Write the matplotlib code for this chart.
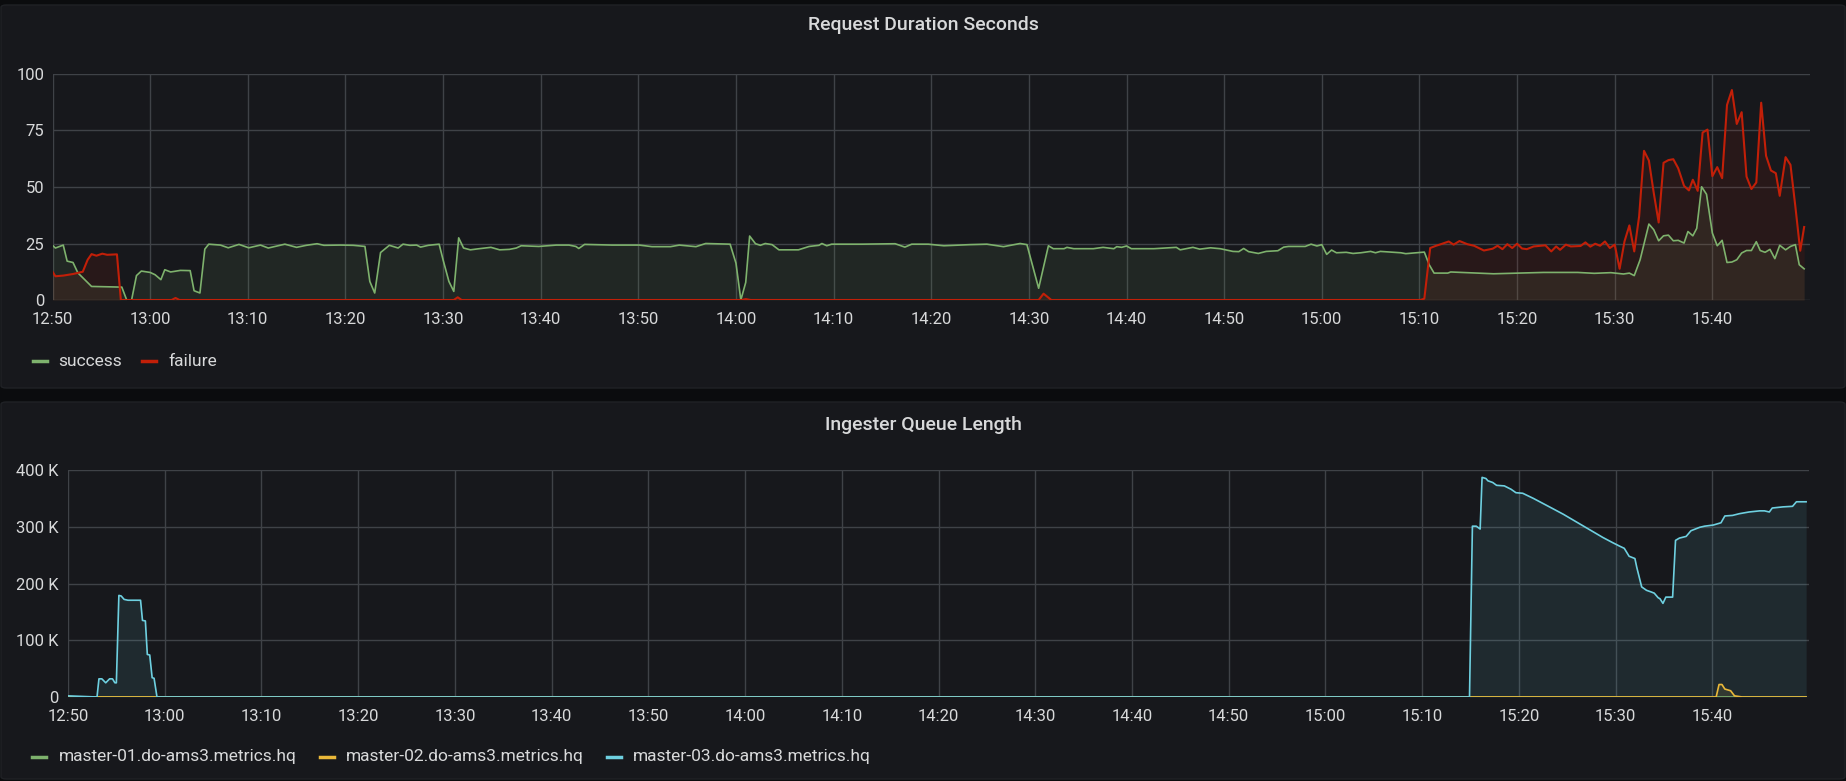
import matplotlib
matplotlib.use("Agg")
import matplotlib.pyplot as plt
from matplotlib.patches import FancyBboxPatch
from matplotlib.lines import Line2D

plt.rcParams['font.family'] = ['Roboto', 'DejaVu Sans']

# minutes after 12:50
tick_minutes = [0, 10, 20, 30, 40, 50, 60, 70, 80, 90, 100, 110, 120, 130, 140, 150, 160, 170]
tick_labels = ["12:50", "13:00", "13:10", "13:20", "13:30", "13:40", "13:50", "14:00", "14:10",
               "14:20", "14:30", "14:40", "14:50", "15:00", "15:10", "15:20", "15:30", "15:40"]

# Request Duration Seconds
success_t = [0, 0.3, 1.1, 1.5, 2.1, 2.6, 4.0, 7.1, 7.6, 8.1, 8.6, 9.1, 10.0, 10.5, 11.1, 11.5, 12.1, 13.1,
             14.1, 14.5, 15.1, 15.6, 16.0, 17.2, 18.0, 19.1, 20.1, 21.3, 22.1, 22.8, 23.8, 25.0, 26.0, 27.1,
             27.8, 29.5, 30.8, 32.0, 32.5, 33.0, 33.6, 34.5, 35.4, 35.9, 36.6, 37.3, 37.7, 38.5, 39.6, 40.0,
             40.6, 41.1, 41.6, 42.1, 42.8,
             43.7, 44.9, 45.8, 46.8, 47.5, 48.0, 49.8, 51.6, 52.9, 53.6, 53.9, 54.5, 57.3, 60.1, 61.4, 63.3,
             64.2, 65.9, 66.9, 69.4, 70.0, 70.5, 71.0, 71.4, 72.0, 72.5, 73.0, 73.7, 74.4, 75.4, 76.4, 77.5,
             78.5, 78.8, 79.3, 79.8, 82.9, 86.3, 87.3, 88.0, 89.7,
             91.3, 94.0, 95.7, 97.4, 99.1, 99.8, 101.0, 102.0, 102.5, 103.6, 103.9, 104.6, 106.6, 107.6,
             108.7, 109.0, 109.5, 110.0, 110.5, 112.8, 115.1, 115.5, 116.8, 117.5, 118.6, 119.6, 120.9,
             121.5, 122.0, 122.5, 123.5, 124.3, 125.5, 126.1, 126.6, 128.3, 128.9, 129.5, 130.0, 130.5,
             131.0, 131.5, 132.5, 133.2,
             134.0, 135.0, 135.5, 136.0, 138.1, 138.6, 140.5, 141.0, 141.5, 142.9, 143.2, 147.6, 152.7,
             156.2, 157.9, 159.6, 160.9, 161.5, 162.0, 162.6, 163.5, 164.0, 164.5, 165.0, 165.5, 166.0,
             166.5, 167.1, 167.5, 168.0, 168.4, 168.9, 169.4, 170.0, 170.5, 171.0, 171.5, 172.0, 172.5,
             173.0, 173.5, 174.0, 174.5, 174.9, 175.4, 175.9, 176.4, 176.9, 177.5, 178.0, 178.5, 178.9, 179.4]
success_v = [24.2, 23, 24.3, 17.2, 16.6, 12, 6, 5.7, 0, 0, 10.8, 12.8, 12.2, 11.2, 9, 13.4, 12.4, 13.1,
             13, 4.1, 3.1, 22.5, 24.7, 24.3, 23.1, 24.6, 23.1, 24.3, 23, 23.7, 24.7, 23.3, 24.2, 24.9,
             24.2, 24.3, 24.2, 23.7, 8.2, 3.1, 21, 24.2, 23, 24.7, 24.2, 24.3, 23.4, 24.2, 24.7, 17.8,
             8.2, 3.8, 27.5, 23, 22.2,
             22.7, 23.3, 22.2, 22.4, 23, 24, 23.7, 24.3, 24.3, 23.7, 22.8, 24.6, 24.3, 24.3, 23.6, 23.6,
             24.3, 23.6, 25, 24.7, 16.3, 0, 7.8, 28.3, 24.9, 24.2, 25, 24.5, 22.2, 22.2, 22.2, 23.7,
             24.2, 25, 24, 24.7, 24.7, 24.9, 23.4, 24.7, 24.7,
             24, 24.5, 24.7, 23.6, 25, 24.5, 5.2, 24, 22.7, 22.7, 23.3, 22.7, 22.7, 23.3,
             22.7, 23.6, 23.3, 23.9, 22.7, 22.7, 23.3, 22.2, 23.3, 22.5, 23.1, 22.7, 21.5,
             21.4, 22.8, 21.4, 20.6, 21.5, 21.8, 23.4, 23.7, 23.7, 24.7, 23.9, 24.5, 20.2,
             22.1, 20.9, 21.1, 20.6,
             20.9, 21.5, 20.9, 21.5, 20.9, 20.5, 21.2, 15.6, 11.9, 11.9, 12.4, 11.6, 12.2,
             12.2, 11.8, 12.1, 11.5, 11.9, 10.8, 17.8, 33.6, 31.1, 26.2, 28.4, 28.7, 26.2,
             26.4, 25.2, 30.3, 28.4, 31.7, 50.1, 46.8, 29.6, 24, 26.4, 16.6, 16.8, 17.8,
             20.8, 21.9, 21.9, 25.8, 21.9, 21.1, 22.4, 18.3, 24.2, 22.2, 23.7, 24.5, 15.6, 13.8]

failure_t = [0, 0.3, 1.1, 2.1, 2.6, 3.1, 3.6, 4.0, 4.5, 5.1, 5.6, 6.6, 7.0,
             12.2, 12.6, 13.0, 41.1, 41.5, 41.9, 70.6, 71.0, 71.5, 101.0, 101.5, 102.3, 140.1, 140.5,
             141.1, 141.7, 142.2, 143.0, 143.5, 144.1, 144.9, 145.6, 146.6, 147.5, 148.0, 148.5, 149.0,
             149.5, 150.0, 150.5, 151.0, 151.7, 152.9, 153.5, 154.0, 154.4, 155.0, 155.5, 156.5, 157.0,
             157.5, 158.0, 158.5, 159.0, 159.5, 160.0, 160.5, 161.0, 161.5, 162.0, 162.5, 163.0, 163.5,
             164.0, 164.5, 165.0, 165.5, 166.0, 166.5, 167.1, 167.6, 168.0, 168.5, 169.0, 169.5, 170.0,
             170.5, 171.0, 171.5, 172.0, 172.5, 173.0, 173.5, 174.0, 174.5, 175.0, 175.5, 176.0, 176.5,
             176.9, 177.5, 178.0, 178.5, 179.0, 179.4]
failure_v = [12.5, 10.5, 10.8, 11.5, 12, 12.5, 17.8, 20.3, 19.6, 20.5, 20, 20.2, 0,
             0, 0.9, 0, 0, 1.2, 0, 0, 0.4, 0, 0, 2.8, 0, 0, 0.6,
             23, 24, 24.7, 25.9, 24.5, 26.1, 24.7, 24, 21.9, 22.7, 24, 22.5, 24.7,
             23, 24.9, 22.8, 22.5, 23.7, 24.2, 21.5, 23.7, 22.2, 24.5, 23.7, 23.9, 25.5,
             23.6, 24.9, 24, 25.9, 23, 24.5, 13.8, 25.9, 33, 21.5, 37, 66, 61.7,
             47.3, 34.3, 60.7, 61.9, 62.3, 58.3, 50.5, 48.5, 53.2, 48.3, 74.1, 75.4, 54.8,
             58.8, 53.9, 86.3, 92.9, 77.9, 83.1, 54.6, 49.1, 52, 87.3, 63.8, 57.3, 56.1,
             46.1, 63.2, 59.8, 41.4, 21.8, 32.3]

# Ingester Queue Length (values in thousands)
m01_t = [0, 179.7]
m01_v = [0, 0]
m02_t = [0, 170.4, 170.7, 171.0, 171.3, 171.9, 172.3, 173.1, 179.7]
m02_v = [0, 0, 22, 22, 14, 11, 2, 0, 0]
m03_t = [0, 3.0, 3.2, 3.5, 3.9, 4.3, 4.6, 4.85, 5.0, 5.26, 5.5, 5.8, 6.2, 7.5, 7.7, 8.0, 8.2, 8.45,
         8.7, 8.9, 9.2,
         144.9, 145.2, 145.6, 146.0, 146.2, 146.6, 146.8, 147.3, 147.7, 148.5, 149.2, 149.7, 150.4,
         151.5, 152.5, 153.5, 154.6, 155.6, 156.6, 157.7, 158.7, 159.7, 160.4, 160.9, 161.4, 162.0,
         162.2, 162.7, 163.2, 163.7, 164.0, 164.4, 164.6, 164.9, 165.2, 165.9, 166.2, 166.6, 167.3,
         167.8, 168.7, 169.2, 170.1, 170.9, 171.3, 172.1, 172.8, 173.8, 174.9, 175.4, 175.9, 176.2,
         177.3, 178.3, 178.7, 179.7]
m03_v = [2, 0, 32, 32, 25, 32, 32, 25, 25, 179, 178, 172, 170.5, 170.5, 135, 134, 75, 74,
         34, 33, 0,
         0, 301, 301, 296, 387, 385, 381, 378, 373, 372, 366, 360, 359,
         350, 341, 332, 322, 312, 302, 291, 281, 272, 266, 262, 248, 244,
         228, 194, 188, 185, 183, 175, 173, 165, 176, 176, 276, 280, 283,
         293, 299, 301, 303, 307, 319, 320, 323, 326, 328, 328, 326, 333,
         335, 336, 344, 344]

W, H = 1846, 781
BG = '#0b0c0e'
PANEL = '#17181c'
GRID = '#3f4247'
TEXT = '#d8d9da'
GREEN, RED, YELLOW, CYAN = '#7eb26d', '#c21f08', '#eab839', '#6ed0e0'


def fx(px):
    return px / W


def fy(py):
    return 1 - py / H


fig = plt.figure(figsize=(W / 100, H / 100), dpi=100, facecolor=BG)

# panel backgrounds
for top, bottom in [(5, 388), (402, 779)]:
    fig.add_artist(FancyBboxPatch((fx(1), fy(bottom)), fx(1844), (bottom - top) / H,
                                  boxstyle='round,pad=0,rounding_size=0.003',
                                  transform=fig.transFigure, facecolor=PANEL,
                                  edgecolor='#202226', linewidth=1, zorder=0))


def style_axes(ax, yticks, ylabels, ypad):
    ax.set_facecolor('none')
    for s in ax.spines.values():
        s.set_visible(False)
    ax.set_xlim(0, 180)
    ax.set_xticks(tick_minutes)
    ax.set_xticklabels(tick_labels)
    ax.set_yticks(yticks)
    ax.set_yticklabels(ylabels)
    ax.tick_params(axis='x', length=0, pad=8.5, labelsize=12, labelcolor=TEXT)
    ax.tick_params(axis='y', length=0, pad=ypad, labelsize=12, labelcolor=TEXT)
    ax.grid(True, color=GRID, linewidth=1)
    ax.set_axisbelow(True)


# top panel
ax1 = fig.add_axes([fx(52.5), fy(300), fx(1810 - 52.5), (300 - 74) / H])
ax1.set_ylim(0, 100)
style_axes(ax1, [0, 25, 50, 75, 100], ["0", "25", "50", "75", "100"], 6)
ax1.fill_between(success_t, success_v, color=GREEN, alpha=0.1, linewidth=0)
ax1.plot(success_t, success_v, color=GREEN, linewidth=1.2)
ax1.fill_between(failure_t, failure_v, color=RED, alpha=0.1, linewidth=0)
ax1.plot(failure_t, failure_v, color=RED, linewidth=1.5)
fig.text(0.5, fy(25.5), "Request Duration Seconds", ha='center', va='center',
         fontsize=14, fontweight='medium', color=TEXT)

# bottom panel
ax2 = fig.add_axes([fx(68), fy(697), fx(1809 - 68), (697 - 470) / H])
ax2.set_ylim(0, 400)
style_axes(ax2, [0, 100, 200, 300, 400], ["0", "100 K", "200 K", "300 K", "400 K"], 7)
for t, v, c in [(m01_t, m01_v, GREEN), (m02_t, m02_v, YELLOW), (m03_t, m03_v, CYAN)]:
    ax2.fill_between(t, v, color=c, alpha=0.1, linewidth=0)
    ax2.plot(t, v, color=c, linewidth=1.2)
fig.text(0.5, fy(425), "Ingester Queue Length", ha='center', va='center',
         fontsize=14, fontweight='medium', color=TEXT)


# legends
def legend_item(x_line, x_text, y, color, label):
    fig.add_artist(Line2D([fx(x_line), fx(x_line + 14)], [fy(y), fy(y)],
                          transform=fig.transFigure, color=color, linewidth=2.5))
    fig.text(fx(x_text), fy(y), label, ha='left', va='center', fontsize=12.5, color=TEXT)


legend_item(33, 58, 361, GREEN, "success")
legend_item(142, 168, 361, RED, "failure")
legend_item(32, 59, 757, GREEN, "master-01.do-ams3.metrics.hq")
legend_item(320, 346, 757, YELLOW, "master-02.do-ams3.metrics.hq")
legend_item(607, 633, 757, CYAN, "master-03.do-ams3.metrics.hq")

fig.savefig("out.png", dpi=100, facecolor=BG)
